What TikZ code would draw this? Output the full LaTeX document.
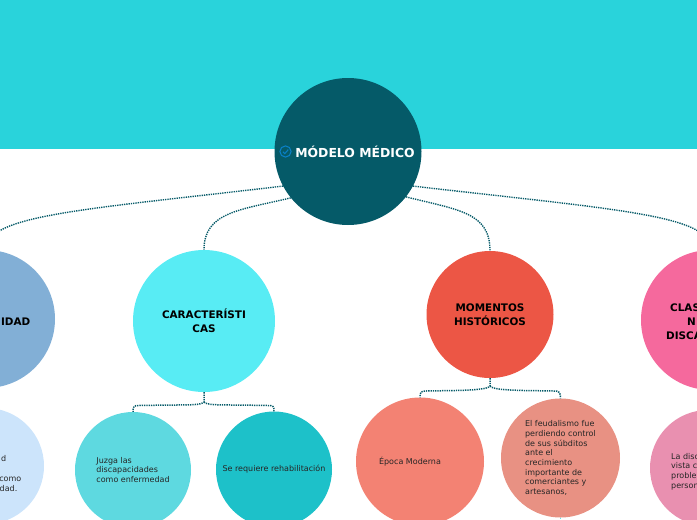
\documentclass[tikz,border=0pt]{standalone}
\usepackage{fontspec}
\setmainfont{DejaVu Sans}
\usetikzlibrary{calc}

\definecolor{banner}{HTML}{29D3DB}
\definecolor{rootfill}{HTML}{055A68}
\definecolor{discfill}{HTML}{82AFD6}
\definecolor{discsub}{HTML}{CCE4FB}
\definecolor{carfill}{HTML}{58ECF4}
\definecolor{carsuba}{HTML}{5ED9E0}
\definecolor{carsubb}{HTML}{1DC1C9}
\definecolor{momfill}{HTML}{EC5645}
\definecolor{momsuba}{HTML}{F38273}
\definecolor{momsubb}{HTML}{E89183}
\definecolor{clasfill}{HTML}{F5699D}
\definecolor{classub}{HTML}{E990B0}
\definecolor{iconblue}{HTML}{0A7FC4}

\begin{document}
\begin{tikzpicture}[
        %Everything is measured on a 697 by 520 sheet
        x=1pt, y=-1pt,
        bubble/.style={circle, inner sep=0pt, text=black},
        topic/.style={bubble, font=\fontsize{10.4}{14}\selectfont\bfseries, align=center},
        leaf/.style={bubble, font=\fontsize{8}{9.7}\selectfont, align=left, text=black!85},
        cuttopic/.style={topic, rectangle},
        cutleaf/.style={leaf, rectangle},
        link/.style={draw=rootfill, line width=1.4pt, dash pattern=on 1.3pt off 1pt},
        sublink/.style={link, line width=1.5pt}
     ]
    \useasboundingbox (0,0) rectangle (697,520);
    % Band at the top
    \fill[banner] (0,0) rectangle (697,149);

    % Central circle
    \node[bubble, fill=rootfill, minimum size=147pt, text=white,
          font=\fontsize{12.4}{14}\selectfont\bfseries] (root) at (348,151.5)
          {\hspace*{14pt}MÓDELO MÉDICO};
    \coordinate (tick) at (285.5,151.5);
    \draw[iconblue, line width=1.1pt] (tick) circle (5.6);
    \draw[iconblue, line width=1.1pt] ($(tick)+(-2.6,0.2)$) -- ($(tick)+(-0.7,2.1)$) -- ($(tick)+(2.8,-1.9)$);

    % Main topics
    \node[topic, fill=discfill, minimum size=138pt] (disc) at (-14,319) {};
    \node[cuttopic, anchor=east] (disctext) at (30.5,321.5) {IDAD};
    \node[topic, fill=carfill, minimum size=142pt] (car) at (204,321) {CARACTERÍSTI\\CAS};
    \node[topic, fill=momfill, minimum size=127pt] (mom) at (490,314.5) {MOMENTOS\\HISTÓRICOS};
    \node[topic, fill=clasfill, minimum size=140pt] (clas) at (711,320) {};
    \node[cuttopic, anchor=west, align=left] (clastext) at (666,322)
          {\hspace*{4pt}CLAS\\\hspace*{21pt}N\\DISCA};

    % Second level
    \node[leaf, fill=discsub, minimum size=116pt] (discsub) at (-14,466) {};
    \node[cutleaf, anchor=east, align=right] (discsubtext) at (21.5,473.5)
          {d\hspace*{15pt}\\\mbox{}\\como\\dad.\hspace*{4pt}};
    \node[leaf, fill=carsuba, minimum size=116pt] (cara) at (133,470) {Juzga las\\discapacidades\\como enfermedad};
    \node[leaf, fill=carsubb, minimum size=116pt] (carb) at (274,469.5) {Se requiere rehabilitación};
    \node[leaf, fill=momsuba, minimum size=128pt] (moma) at (420,461.5) {Época Moderna\hspace*{20pt}};
    \node[leaf, fill=momsubb, minimum size=119pt] (momb) at (560.5,458)
          {El feudalismo fue\\perdiendo control\hspace*{6pt}\\de sus súbditos\\ante el\\crecimiento\\importante de\\comerciantes y\\artesanos,};
    \node[leaf, fill=classub, minimum size=116pt] (clasa) at (708,468) {};
    \node[cutleaf, anchor=west] (clasatext) at (671,471.5) {La disc\\vista c\\proble\\person};

    % Curves from the centre
    \draw[link] (root.208) .. controls (80,210) and (-14,215) .. (disc.north);
    \draw[link] (root.219) .. controls (240,210) and (204,212) .. (car.north);
    \draw[link] (root.322) .. controls (458,210) and (490,212) .. (mom.north);
    \draw[link] (root.332) .. controls (620,210) and (711,215) .. (clas.north);

    % Brackets below the topics
    \coordinate (carfork) at (204,402);
    \draw[sublink] (car.south) -- (carfork) .. controls (202,405) and (190,405) .. (170,405)
        -- (139,405.5) .. controls (134,405.5) and (133,406) .. (cara.north);
    \draw[sublink] (carfork) .. controls (206,405) and (218,405) .. (238,405)
        -- (268,405.5) .. controls (273,405.5) and (274,406) .. (carb.north);
    \coordinate (momfork) at (490,386);
    \draw[sublink] (mom.south) -- (momfork) .. controls (488,389) and (476,390) .. (456,390.5)
        -- (426,391) .. controls (421,391) and (420,392) .. (moma.north);
    \draw[sublink] (momfork) .. controls (492,389) and (504,390) .. (524,390.5)
        -- (554,391) .. controls (559,391) and (560.5,392) .. (momb.north);

    % Stub leaving the page
    \coordinate (mombend) at (560.5,525);
    \draw[link, draw=carfill] (momb.south) -- (mombend);
\end{tikzpicture}
\end{document}
